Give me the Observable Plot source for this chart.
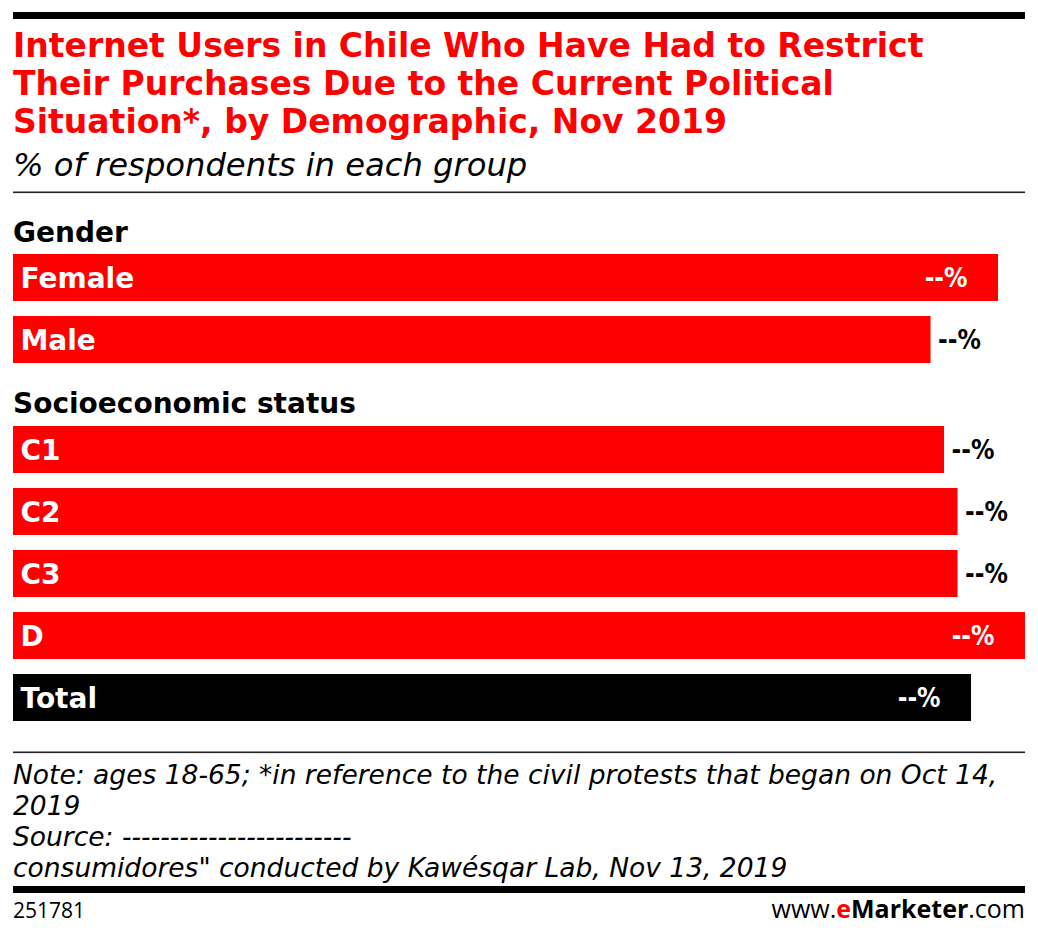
<!DOCTYPE html>
<html><head><meta charset="utf-8">
<script src="https://cdn.jsdelivr.net/npm/d3@7"></script>
<script src="https://cdn.jsdelivr.net/npm/@observablehq/plot@0.6"></script>
<style>
body{margin:0;background:#fff;}
#root{position:relative;width:1038px;height:938px;overflow:hidden;background:#fff;}
#root > svg, #root > div{position:absolute;left:0;}
</style></head><body><div id="root"></div>
<script>
// ---- data ----
const titleLines = ["Internet Users in Chile Who Have Had to Restrict", "Their Purchases Due to the Current Political", "Situation*, by Demographic, Nov 2019"];
const subtitle = "% of respondents in each group";
const groupHeaders = ["Gender", "Socioeconomic status"];
const genderCategories = ["Female", "Male"];
const genderValues = [73, 68];
const sesCategories = ["C1", "C2", "C3", "D", "Total"];
const sesValues = [69, 70, 70, 75, 71];
const valueLabel = "--%";
const noteLines = ["Note: ages 18-65; *in reference to the civil protests that began on Oct 14,", "2019", "Source: ------------------------", "consumidores\" conducted by Kawésqar Lab, Nov 13, 2019"];
const chartId = "251781";

const RED = "#ff0000";
const W = 1038;
const BOLD = "'DejaVu Sans', sans-serif";
const COND = "'DejaVu Sans Condensed', 'DejaVu Sans', sans-serif";
const ITAL = "'DejaVu Sans', sans-serif";
const LOGO = "'Open Sans', sans-serif";
const xDomain = [0, 75];
const step = 62.5, padIn = 0.248;

const root = document.getElementById("root");

// chrome layer
const chrome = d3.create("svg").attr("width", W).attr("height", 938).style("top", "0px");
chrome.append("rect").attr("x", 13).attr("y", 12).attr("width", 1012).attr("height", 7).attr("fill", "#000");
const tt = chrome.append("g").attr("font-family", BOLD).attr("font-weight", "bold").attr("font-size", 33).attr("fill", RED);
titleLines.forEach((t, i) => tt.append("text").attr("x", 13).attr("y", 57 + i * 38).text(t));
chrome.append("text").attr("x", 13).attr("y", 176).attr("font-family", ITAL).attr("font-style", "italic").attr("font-size", 32.2).attr("fill", "#000").text(subtitle);
chrome.append("rect").attr("x", 13).attr("y", 191.5).attr("width", 1012).attr("height", 1.6).attr("fill", "#222");
chrome.append("text").attr("x", 13).attr("y", 242).attr("font-family", BOLD).attr("font-weight", "bold").attr("font-size", 28).text(groupHeaders[0]);
chrome.append("text").attr("x", 13).attr("y", 413).attr("font-family", BOLD).attr("font-weight", "bold").attr("font-size", 28).text(groupHeaders[1]);
chrome.append("rect").attr("x", 13).attr("y", 751.5).attr("width", 1012).attr("height", 1.6).attr("fill", "#222");
const nt = chrome.append("g").attr("font-family", ITAL).attr("font-style", "italic").attr("font-size", 26.5).attr("fill", "#000");
noteLines.forEach((t, i) => nt.append("text").attr("x", 13).attr("y", 784 + i * 31).text(t));
chrome.append("rect").attr("x", 13).attr("y", 886).attr("width", 1012).attr("height", 7).attr("fill", "#000");
chrome.append("text").attr("x", 13).attr("y", 918).attr("font-family", LOGO).attr("font-size", 21).attr("fill", "#000").text(chartId);
const logo = chrome.append("text").attr("x", 1025).attr("y", 918).attr("text-anchor", "end").attr("font-family", LOGO).attr("font-size", 25).attr("fill", "#000");
logo.append("tspan").text("www.");
logo.append("tspan").attr("fill", RED).attr("font-weight", "bold").text("e");
logo.append("tspan").attr("font-weight", "bold").text("Marketer");
logo.append("tspan").text(".com");
root.appendChild(chrome.node());

function barChart(cats, vals, top) {
  const rows = cats.map((c, i) => ({category: c, value: vals[i]}));
  const H = step * (cats.length - padIn);
  const inside = d => d.value > 70;
  const p = Plot.plot({
    width: W, height: H,
    marginLeft: 13, marginRight: 13, marginTop: 0, marginBottom: 0,
    x: {domain: xDomain, axis: null},
    y: {domain: cats, axis: null, paddingInner: padIn, paddingOuter: 0},
    style: {fontFamily: BOLD, background: "transparent"},
    marks: [
      Plot.barX(rows, {x: "value", y: "category", fill: d => d.category === "Total" ? "#000" : RED}),
      Plot.text(rows, {x: 0, y: "category", text: "category", textAnchor: "start", dx: 7, dy: 1, fill: "#fff", fontWeight: "bold", fontSize: 28}),
      Plot.text(rows.filter(inside), {x: "value", y: "category", text: () => valueLabel, textAnchor: "end", dx: -31, dy: 1, fill: "#fff", fontWeight: "bold", fontSize: 26, fontFamily: COND}),
      Plot.text(rows.filter(d => !inside(d)), {x: "value", y: "category", text: () => valueLabel, textAnchor: "start", dx: 7, dy: 1, fill: "#000", fontWeight: "bold", fontSize: 26, fontFamily: COND})
    ]
  });
  p.style.top = top + "px";
  root.appendChild(p);
}
barChart(genderCategories, genderValues, 254);
barChart(sesCategories, sesValues, 425);
</script></body></html>
